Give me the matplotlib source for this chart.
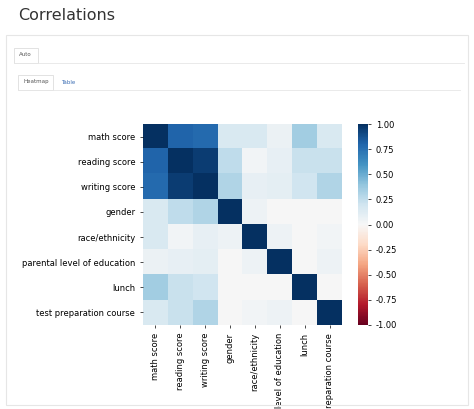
import matplotlib
matplotlib.use("Agg")
import matplotlib.pyplot as plt
from matplotlib.patches import Rectangle
import numpy as np

labels = ["math score", "reading score", "writing score", "gender",
          "race/ethnicity", "parental level of education", "lunch",
          "test preparation course"]
corr = np.array([
    [1.00, 0.80, 0.78, 0.15, 0.15, 0.06, 0.35, 0.15],
    [0.80, 1.00, 0.95, 0.25, 0.03, 0.08, 0.22, 0.22],
    [0.78, 0.95, 1.00, 0.30, 0.08, 0.10, 0.20, 0.30],
    [0.15, 0.25, 0.30, 1.00, 0.05, 0.00, 0.00, 0.00],
    [0.15, 0.03, 0.08, 0.05, 1.00, 0.05, 0.00, 0.03],
    [0.06, 0.08, 0.10, 0.00, 0.05, 1.00, 0.00, 0.05],
    [0.35, 0.22, 0.20, 0.00, 0.00, 0.00, 1.00, 0.00],
    [0.15, 0.22, 0.30, 0.00, 0.03, 0.05, 0.00, 1.00],
])
cbar_ticks = [-1.0, -0.75, -0.5, -0.25, 0.0, 0.25, 0.5, 0.75, 1.0]

W, H = 474, 409
fig = plt.figure(figsize=(W / 100, H / 100), dpi=100)

def box(x0, y0, x1, y1, **kw):
    fig.patches.append(Rectangle((x0 / W, 1 - y1 / H), (x1 - x0) / W, (y1 - y0) / H,
                                 transform=fig.transFigure, fill=False, **kw))

fig.text(18 / W, 1 - 16 / H, "Correlations", fontsize=11.5, color="#333333", va="center")
box(6, 35, 468, 405, edgecolor="#e6e6e6", lw=0.8)
box(14, 48, 38, 63, edgecolor="#dddddd", lw=0.6)
fig.text(19 / W, 1 - 55 / H, "Auto", fontsize=4, color="#555555", va="center")
fig.lines.append(plt.Line2D([14 / W, 464 / W], [1 - 63 / H] * 2, transform=fig.transFigure,
                            color="#e6e6e6", lw=0.6))
box(18, 75, 53, 90, edgecolor="#dddddd", lw=0.6)
fig.text(23 / W, 1 - 82 / H, "Heatmap", fontsize=4, color="#555555", va="center")
fig.text(61 / W, 1 - 82 / H, "Table", fontsize=4, color="#3c6eb4", va="center")
fig.lines.append(plt.Line2D([18 / W, 460 / W], [1 - 90 / H] * 2, transform=fig.transFigure,
                            color="#e6e6e6", lw=0.6))

ax = fig.add_axes([143 / W, 1 - 325 / H, 199 / W, 201 / H])
im = ax.imshow(corr, cmap="RdBu", vmin=-1, vmax=1, aspect="auto")
ax.set_xticks(range(len(labels)))
ax.set_xticklabels(labels, rotation=90, fontsize=6)
ax.set_yticks(range(len(labels)))
ax.set_yticklabels(labels, fontsize=6)
for s in ax.spines.values():
    s.set_visible(False)
ax.tick_params(length=2, width=0.5)

cax = fig.add_axes([358 / W, 1 - 325 / H, 10 / W, 201 / H])
cb = fig.colorbar(im, cax=cax, ticks=cbar_ticks)
cb.ax.set_yticklabels([f"{t:.2f}" if t < 0 else f"{t:.2f}" for t in cbar_ticks])
cb.ax.tick_params(labelsize=6, length=2, width=0.5)
cb.outline.set_visible(False)

fig.savefig("out.png", dpi=100)
